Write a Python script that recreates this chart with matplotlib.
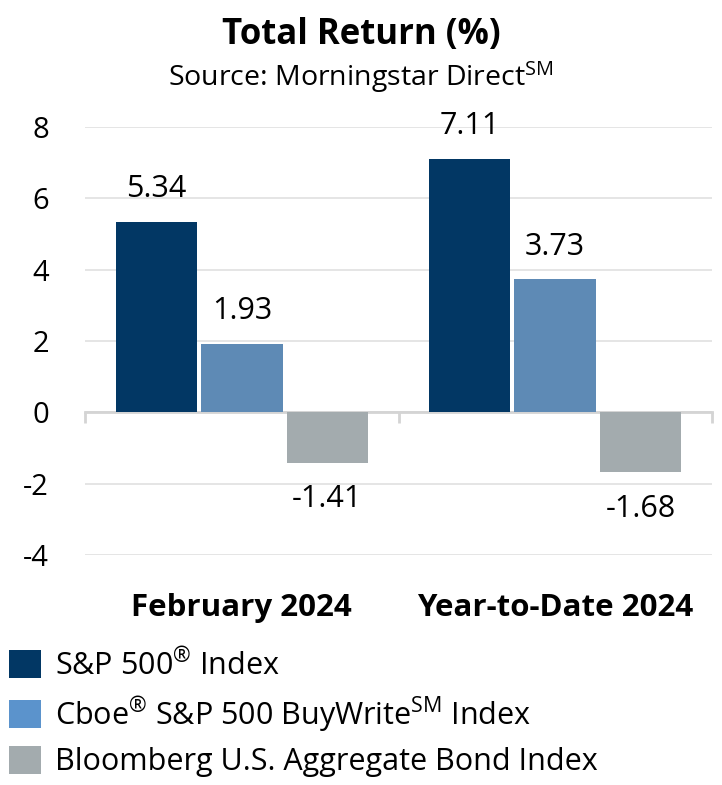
import numpy as np
import matplotlib.pyplot as plt
from matplotlib.patches import Patch
from matplotlib.transforms import blended_transform_factory

plt.rcParams['font.family'] = ['Open Sans', 'DejaVu Sans']
plt.rcParams['mathtext.fontset'] = 'custom'
plt.rcParams['mathtext.rm'] = 'Open Sans'
plt.rcParams['mathtext.it'] = 'Open Sans'

# data
periods = ['February 2024', 'Year-to-Date 2024']
series = ['S&P 500$^{\\mathrm{®}}$ Index',
          'Cboe$^{\\mathrm{®}}$ S&P 500 BuyWrite$^{\\mathrm{SM}}$ Index',
          'Bloomberg U.S. Aggregate Bond Index']
sp500 = [5.34, 7.11]
buywrite = [1.93, 3.73]
agg_bond = [-1.41, -1.68]
yticks = [-4, -2, 0, 2, 4, 6, 8]

colors = ['#023764', '#5e8ab5', '#a3abae']
legend_colors = ['#023764', '#5b93cc', '#a3abae']

fig = plt.figure(figsize=(7.22, 7.85), dpi=100)
ax = fig.add_axes([0.118, 0.293, 0.868, 0.545])

x = np.arange(len(periods))
w = 0.26
gap = 0.013
for i, vals in enumerate([sp500, buywrite, agg_bond]):
    pos = x + (i - 1) * (w + gap)
    ax.bar(pos, vals, width=w, color=colors[i], zorder=3)
    for p, v in zip(pos, vals):
        if v >= 0:
            ax.text(p, v + 0.5, f'{v:.2f}', ha='center', va='bottom', fontsize=22)
        else:
            ax.text(p, v - 0.6, f'{v:.2f}', ha='center', va='top', fontsize=22)

ax.set_xlim(-0.5, 1.5)
ax.set_ylim(-4, 8)
ax.set_yticks(yticks)
ax.set_yticklabels([str(t) for t in yticks], fontsize=21)
ax.tick_params(axis='y', length=0, pad=26)
ax.yaxis.grid(True, color='#e3e3e3', linewidth=1.3, zorder=0)
ax.set_axisbelow(True)

for s in ['top', 'right', 'left']:
    ax.spines[s].set_visible(False)
ax.spines['bottom'].set_position(('data', 0))
ax.spines['bottom'].set_color('#d4d4d4')
ax.spines['bottom'].set_linewidth(2)
ax.set_xticks([-0.5, 0.5, 1.5])
ax.set_xticklabels([])
ax.tick_params(axis='x', length=8, width=2, color='#d4d4d4', direction='out')

trans = blended_transform_factory(ax.transData, fig.transFigure)
for xi, lab in zip(x, periods):
    ax.text(xi, 0.226, lab, transform=trans, ha='center', va='center',
            fontsize=22.5, fontweight='bold')

fig.text(0.5, 0.956, 'Total Return (%)', ha='center', va='center',
         fontsize=25, fontweight='bold')
fig.text(0.5, 0.901, 'Source: Morningstar Direct$^{\\mathrm{SM}}$', ha='center',
         va='center', fontsize=20.5)

handles = [Patch(facecolor=c) for c in legend_colors]
fig.legend(handles, series, loc='upper left', bbox_to_anchor=(0.0, 0.185),
           frameon=False, fontsize=22, handlelength=1.05, handleheight=1.05,
           handletextpad=0.45, labelspacing=0.4, borderaxespad=0.0, borderpad=0.3)

fig.savefig('out.png', dpi=100)
